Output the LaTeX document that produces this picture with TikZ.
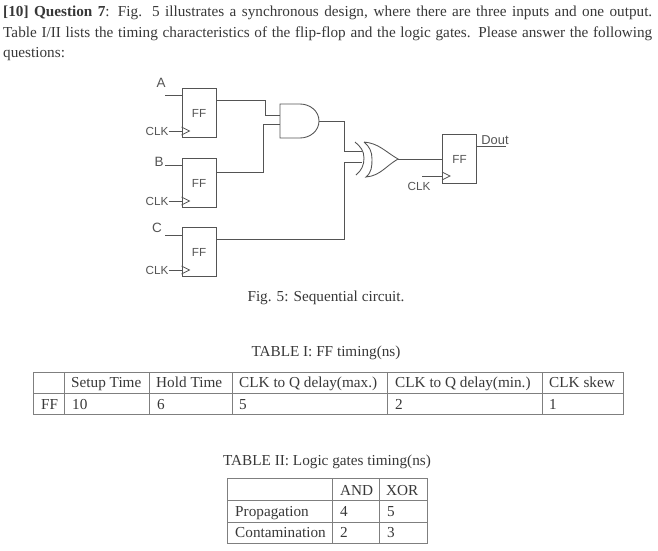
\documentclass[tikz,border=0pt]{standalone}
\usepackage{fontspec}
\setmainfont{Liberation Serif}
\setsansfont{Liberation Sans}
\usetikzlibrary{positioning}
\definecolor{inkline}{gray}{0.33}
\definecolor{inktext}{gray}{0.22}
\tikzset{
  wire/.style={draw=inkline, line width=0.75pt},
  grid/.style={draw=inkline!75, line width=0.8pt},
  ffbox/.style={draw=inkline, line width=0.85pt, minimum width=1.02cm, minimum height=1.47cm, inner sep=0pt, font=\sffamily\fontsize{10}{12}\selectfont, text=inkline},
  sig/.style={font=\sffamily\fontsize{10}{12}\selectfont, text=inkline, inner sep=0pt},
  pin/.style={font=\sffamily\fontsize{11.5}{12}\selectfont, text=inkline, inner sep=0pt},
  cell/.style={font=\fontsize{13}{14}\selectfont, text=inktext, inner sep=0pt, anchor=base west},
  captext/.style={font=\fontsize{13}{14}\selectfont, text=inktext, inner sep=0pt},
}
\begin{document}
\begin{tikzpicture}[x=0.03cm,y=-0.03cm]
  \useasboundingbox (0,0) rectangle (658,551);
  % question text
  \node[inner sep=0pt, anchor=north west, text width=19.47cm, align=justify, text=inktext, font=\fontsize{13}{17.5}\selectfont] (question) at (3,6) {\textbf{[10] Question 7}: Fig. 5 illustrates a synchronous design, where there are three inputs and one output.\linebreak Table I/II lists the timing characteristics of the flip-flop and the logic gates. Please answer the following\linebreak questions:};
  % flip-flops
  \node[ffbox] (ffa) at (199,113) {FF};
  \node[ffbox] (ffb) at (199,183) {FF};
  \node[ffbox] (ffc) at (199,252) {FF};
  \node[ffbox] (ffd) at (459.5,159) {FF};
  % inputs
  \node[pin] (a) at (161,83) {A};
  \node[pin] (b) at (159,162) {B};
  \node[pin] (c) at (157,228) {C};
  \coordinate (ina) at (165,95);
  \coordinate (inb) at (165,165);
  \coordinate (inc) at (165,235);
  \draw[wire] (ina) -- (ina -| ffa.west);
  \draw[wire] (inb) -- (inb -| ffb.west);
  \draw[wire] (inc) -- (inc -| ffc.west);
  % clocks
  \node[sig] (clka) at (157,131) {CLK};
  \node[sig] (clkb) at (157,201) {CLK};
  \node[sig] (clkc) at (157,270) {CLK};
  \node[sig] (clkd) at (419,186) {CLK};
  \foreach \n in {a,b,c} {
    \draw[wire] (clk\n.east) -- (clk\n.east -| ff\n.west);
    \draw[wire] (clk\n.east -| ff\n.west) ++(0,-4) -- ++(8,4) -- ++(-8,4);
  }
  \coordinate (clkin) at (422,176);
  \draw[wire] (clkin) -- (clkin -| ffd.west);
  \draw[wire] (clkin -| ffd.west) ++(0,-4) -- ++(8,4) -- ++(-8,4);
  % gates
  \coordinate (andg) at (280,104);
  \draw[wire] (andg) -- ++(20,0) to[out=0,in=90] (319,121) to[out=-90,in=0] (300,138) -- (280,138) -- cycle;
  \coordinate (xorg) at (364,142);
  \draw[wire] (xorg) to[out=-40,in=90] (372,159) to[out=-90,in=40] (366,177) to[out=5,in=-150] (398,159) to[out=150,in=-5] (xorg);
  \draw[wire] (355,142) to[out=-40,in=90] (364,158) to[out=-90,in=40] (356,175);
  % wires
  \draw[wire] (ffa.east |- 0,100) -- (265,100) -- (265,115) -- (280,115);
  \draw[wire] (ffb.east |- 0,172) -- (263,172) -- (263,124) -- (280,124);
  \draw[wire] (319,121) -- (344,121) -- (344,151) -- (362,151);
  \draw[wire] (ffc.east |- 0,239) -- (344,239) -- (344,162) -- (362,162);
  \draw[wire] (398,159) -- (ffd.west |- 0,159);
  \node[pin, font=\sffamily\fontsize{11}{12}\selectfont] (dout) at (495,140) {Dout};
  \draw[wire] (ffd.east |- 0,146) -- (506,146);
  % captions
  \node[captext] (figcap) at (326,298) {Fig. 5: Sequential circuit.};
  \node[captext] (tabone) at (326,353) {TABLE I: FF timing(ns)};
  \node[captext] (tabtwo) at (327,462) {TABLE II: Logic gates timing(ns)};
  % table I
  \draw[grid] (33,372) rectangle (623,414);
  \draw[grid] (33,393) -- (623,393);
  \foreach \x in {64,149,232,387,542} \draw[grid] (\x,372) -- (\x,414);
  \node[cell] (setup) at (71,387) {Setup Time};
  \node[cell] (hold) at (156,387) {Hold Time};
  \node[cell] (qmax) at (239,387) {CLK to Q delay(max.)};
  \node[cell] (qmin) at (395,387) {CLK to Q delay(min.)};
  \node[cell] (skew) at (549,387) {CLK skew};
  \node[cell] (ffrow) at (41,409) {FF};
  \node[cell] (vsetup) at (72,409) {10};
  \node[cell] (vhold) at (157,409) {6};
  \node[cell] (vmax) at (239,409) {5};
  \node[cell] (vmin) at (395,409) {2};
  \node[cell] (vskew) at (549,409) {1};
  % table II
  \draw[grid] (227,478) rectangle (427,543);
  \draw[grid] (227,500) -- (427,500);
  \draw[grid] (227,522) -- (427,522);
  \foreach \x in {332,379} \draw[grid] (\x,478) -- (\x,543);
  \node[cell] (andh) at (340,495) {AND};
  \node[cell] (xorh) at (386,495) {XOR};
  \node[cell] (prop) at (235,516) {Propagation};
  \node[cell] (cont) at (235,537) {Contamination};
  \node[cell] (pand) at (340,516) {4};
  \node[cell] (pxor) at (387,516) {5};
  \node[cell] (cand) at (340,537) {2};
  \node[cell] (cxor) at (387,537) {3};
\end{tikzpicture}
\end{document}
